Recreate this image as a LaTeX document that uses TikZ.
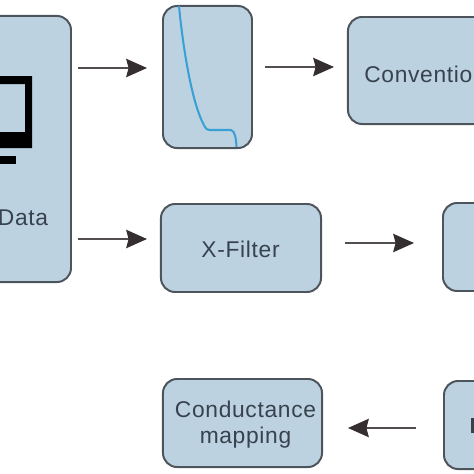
\documentclass[tikz,border=0pt]{standalone}
\usepackage{fontspec}
\setmainfont[LetterSpace=3]{Liberation Sans}
\usetikzlibrary{arrows.meta}
\definecolor{boxFill}{RGB}{188, 210, 224}
\definecolor{boxLine}{RGB}{78, 84, 92}
\definecolor{boxText}{RGB}{56, 66, 78}
\definecolor{flowDark}{RGB}{52, 46, 48}
\definecolor{curveBlue}{RGB}{56, 160, 212}

\begin{document}
\begin{tikzpicture}[
  x=.025cm,y=-.025cm,
  every node/.style={align=center},
  card/.style={rounded corners=10pt, draw=boxLine, fill=boxFill, line width=1.4pt, inner sep=0pt},
  tag/.style={font=\fontsize{16.2}{18.6}\selectfont, text=boxText, inner sep=0pt},
  flow/.style={draw=flowDark!85, line width=1.15pt, -{Stealth[length=.52cm, width=.46cm, inset=.06cm, flowDark]}}
]
\useasboundingbox (0,0) rectangle (474,474);
\clip (0,0) rectangle (474,474);

\node[card, minimum width=2.4cm, minimum height=6.65cm] (data) at (23,149) {};
\node[card, minimum width=2.225cm, minimum height=3.55cm] (curve) at (207.5,77) {};
\node[card, minimum width=4.55cm, minimum height=2.675cm] (conv) at (439,70.5) {};
\node[card, minimum width=4cm, minimum height=2.2cm] (filter) at (241,248) {};
\node[card, minimum width=2.5cm, minimum height=2.2cm] (stage) at (493,247) {};
\node[card, minimum width=2.5cm, minimum height=2.2cm] (last) at (494,425) {};
\node[card, minimum width=3.975cm, minimum height=2.2cm] (mapping) at (242.5,423) {};

\node[tag, anchor=west] (convText) at (364,74) {Conventio};
\node[tag] (dataText) at (23,217.5) {Data};
\node[tag] (filterText) at (240.5,249.5) {X-Filter};
\node[tag] (mappingText) at (245.5,425) {Conductance\\mapping};

% monitor
\fill[black, even odd rule] (-40,76) rectangle (32,148) (-40,84) rectangle (25,132);
\fill[black] (-40,156) rectangle (16,164);
\fill[boxText] (471,418) rectangle (474,433);

\draw[curveBlue, line width=1.45pt] (179,6) .. controls (183,48) and (192,105) .. (205,127) .. controls (206,129) and (207,130) .. (210,130) -- (231,130) .. controls (235,131) and (236,138) .. (236.5,147);

\draw[flow] ([shift={(6,-81)}]data.east) -- ([shift={(-15,-9)}]curve.west);
\draw[flow] ([shift={(12,-10)}]curve.east) -- ([shift={(-13,-3.5)}]conv.west);
\draw[flow] ([shift={(6,90)}]data.east) -- ([shift={(-13,-9)}]filter.west);
\draw[flow] ([shift={(23,-5)}]filter.east) -- ([shift={(-28,-4)}]stage.west);
\draw[flow] ([shift={(-27,3)}]last.west) -- ([shift={(25,5)}]mapping.east);
\end{tikzpicture}
\end{document}
